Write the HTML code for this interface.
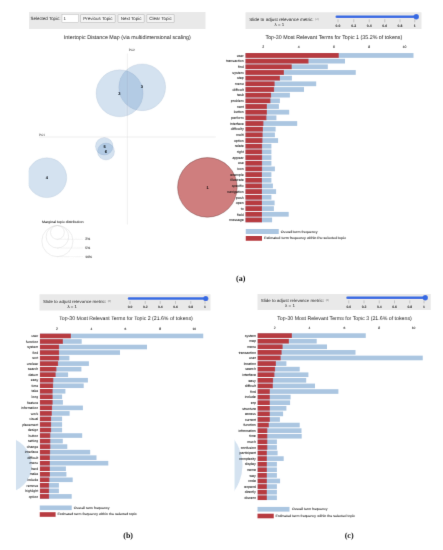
<!DOCTYPE html>
<html lang="en"><head><meta charset="utf-8"><title>LDAvis topics</title>
<style>
html,body{margin:0;padding:0;background:#fff;}
svg{display:block;}
</style></head><body>
<svg width="443" height="550" viewBox="0 0 443 550" text-rendering="geometricPrecision">
<rect width="443" height="550" fill="#fff"/>
<defs><filter id="soft" x="0" y="0" width="443" height="550" filterUnits="userSpaceOnUse"><feConvolveMatrix order="3" kernelMatrix="0 1 0 1 10 1 0 1 0" divisor="14" edgeMode="duplicate" preserveAlpha="false"/></filter></defs>
<g filter="url(#soft)">
<rect x="29.00" y="12.00" width="176.50" height="17.00" fill="#e9e9e9" rx="0"/>
<text x="30.50" y="20.10" font-size="4.5" text-anchor="start" fill="#222" stroke="#222" stroke-width="0.000" font-family='"Liberation Sans", Arial, sans-serif' textLength="30.00" lengthAdjust="spacingAndGlyphs">Selected Topic:</text>
<rect x="62.00" y="14.30" width="16.70" height="8.20" fill="#fff" stroke="#a9a9a9" stroke-width="0.4" rx="0"/>
<text x="63.60" y="20.10" font-size="4.5" text-anchor="start" fill="#222" stroke="#222" stroke-width="0.000" font-family='"Liberation Sans", Arial, sans-serif'>1</text>
<rect x="80.50" y="14.50" width="34.75" height="8.00" fill="#f4f4f4" stroke="#a0a0a0" stroke-width="0.4" rx="0.5"/>
<text x="97.88" y="20.10" font-size="4.5" text-anchor="middle" fill="#222" stroke="#222" stroke-width="0.000" font-family='"Liberation Sans", Arial, sans-serif'>Previous Topic</text>
<rect x="118.00" y="14.50" width="26.25" height="8.00" fill="#f4f4f4" stroke="#a0a0a0" stroke-width="0.4" rx="0.5"/>
<text x="131.12" y="20.10" font-size="4.5" text-anchor="middle" fill="#222" stroke="#222" stroke-width="0.000" font-family='"Liberation Sans", Arial, sans-serif'>Next Topic</text>
<rect x="146.75" y="14.50" width="27.50" height="8.00" fill="#f4f4f4" stroke="#a0a0a0" stroke-width="0.4" rx="0.5"/>
<text x="160.50" y="20.10" font-size="4.5" text-anchor="middle" fill="#222" stroke="#222" stroke-width="0.000" font-family='"Liberation Sans", Arial, sans-serif'>Clear Topic</text>
<text x="127.25" y="39.40" font-size="5.4" text-anchor="middle" fill="#222" stroke="#222" stroke-width="0.000" font-family='"Liberation Sans", Arial, sans-serif' textLength="127.00" lengthAdjust="spacingAndGlyphs">Intertopic Distance Map (via multidimensional scaling)</text>
<line x1="127.3" y1="53.5" x2="127.3" y2="224.5" stroke="#dedede" stroke-width="0.5"/>
<line x1="39" y1="137" x2="215.75" y2="137" stroke="#dedede" stroke-width="0.5"/>
<text x="128.80" y="51.00" font-size="3.1" text-anchor="start" fill="#555" stroke="#555" stroke-width="0.043" font-family='"Liberation Sans", Arial, sans-serif'>PC2</text>
<text x="39.00" y="135.60" font-size="3.1" text-anchor="start" fill="#555" stroke="#555" stroke-width="0.043" font-family='"Liberation Sans", Arial, sans-serif'>PC1</text>
<circle cx="119.6" cy="93.3" r="23.5" fill="#2d70b4" fill-opacity="0.2" stroke="#6c8fb0" stroke-width="0.3" stroke-opacity="0.5"/>
<circle cx="142.2" cy="87.3" r="23.4" fill="#2d70b4" fill-opacity="0.2" stroke="#6c8fb0" stroke-width="0.3" stroke-opacity="0.5"/>
<circle cx="104.25" cy="146.25" r="8.75" fill="#2d70b4" fill-opacity="0.2" stroke="#6c8fb0" stroke-width="0.3" stroke-opacity="0.5"/>
<circle cx="106" cy="151.5" r="8.5" fill="#2d70b4" fill-opacity="0.2" stroke="#6c8fb0" stroke-width="0.3" stroke-opacity="0.5"/>
<clipPath id="c4"><rect x="28.7" y="150" width="60" height="60"/></clipPath>
<g clip-path="url(#c4)">
<circle cx="46.8" cy="177.7" r="19.9" fill="#2d70b4" fill-opacity="0.2" stroke="#6c8fb0" stroke-width="0.3" stroke-opacity="0.5"/>
</g>
<circle cx="207.4" cy="187.4" r="29.8" fill="#b84040" fill-opacity="0.68" stroke="#5a3030" stroke-width="0.4" stroke-opacity="0.9"/>
<text x="119.25" y="94.50" font-size="4.0" text-anchor="middle" fill="#111" stroke="#111" stroke-width="0.056" font-family='"Liberation Sans", Arial, sans-serif' font-weight="bold">2</text>
<text x="141.75" y="88.30" font-size="4.0" text-anchor="middle" fill="#111" stroke="#111" stroke-width="0.056" font-family='"Liberation Sans", Arial, sans-serif' font-weight="bold">3</text>
<text x="104.50" y="147.50" font-size="4.0" text-anchor="middle" fill="#111" stroke="#111" stroke-width="0.056" font-family='"Liberation Sans", Arial, sans-serif' font-weight="bold">5</text>
<text x="105.75" y="153.00" font-size="4.0" text-anchor="middle" fill="#111" stroke="#111" stroke-width="0.056" font-family='"Liberation Sans", Arial, sans-serif' font-weight="bold">6</text>
<text x="46.80" y="178.90" font-size="4.0" text-anchor="middle" fill="#111" stroke="#111" stroke-width="0.056" font-family='"Liberation Sans", Arial, sans-serif' font-weight="bold">4</text>
<text x="207.50" y="189.00" font-size="4.0" text-anchor="middle" fill="#111" stroke="#111" stroke-width="0.056" font-family='"Liberation Sans", Arial, sans-serif' font-weight="bold">1</text>
<text x="42.00" y="223.00" font-size="3.4" text-anchor="start" fill="#222" stroke="#222" stroke-width="0.048" font-family='"Liberation Sans", Arial, sans-serif' textLength="41.50" lengthAdjust="spacingAndGlyphs">Marginal topic distribution</text>
<circle cx="57.4" cy="241.1" r="15.6" fill="none" stroke="#d2d2d2" stroke-width="0.4"/>
<line x1="57.4" y1="256.7" x2="83" y2="256.7" stroke="#d0d0d0" stroke-width="0.4" stroke-dasharray="0.6,0.5"/>
<circle cx="57.4" cy="236.75" r="11.25" fill="none" stroke="#d2d2d2" stroke-width="0.4"/>
<line x1="57.4" y1="248.0" x2="83" y2="248.0" stroke="#d0d0d0" stroke-width="0.4" stroke-dasharray="0.6,0.5"/>
<circle cx="57.4" cy="232.4" r="6.9" fill="none" stroke="#d2d2d2" stroke-width="0.4"/>
<line x1="57.4" y1="239.3" x2="83" y2="239.3" stroke="#d0d0d0" stroke-width="0.4" stroke-dasharray="0.6,0.5"/>
<text x="85.30" y="239.90" font-size="3.3" text-anchor="start" fill="#222" stroke="#222" stroke-width="0.046" font-family='"Liberation Sans", Arial, sans-serif'>2%</text>
<text x="85.30" y="248.60" font-size="3.3" text-anchor="start" fill="#222" stroke="#222" stroke-width="0.046" font-family='"Liberation Sans", Arial, sans-serif'>5%</text>
<text x="85.30" y="257.80" font-size="3.3" text-anchor="start" fill="#222" stroke="#222" stroke-width="0.046" font-family='"Liberation Sans", Arial, sans-serif'>10%</text>
<rect x="245.50" y="12.25" width="176.00" height="16.75" fill="#e9e9e9" rx="0"/>
<text x="249.25" y="20.85" font-size="4.45" text-anchor="start" fill="#222" stroke="#222" stroke-width="0.000" font-family='"Liberation Sans", Arial, sans-serif' textLength="64.29" lengthAdjust="spacingAndGlyphs">Slide to adjust relevance metric:</text>
<text x="318.75" y="19.65" font-size="2.8" text-anchor="end" fill="#8a8a8a" stroke="#8a8a8a" stroke-width="0.039" font-family='"Liberation Sans", Arial, sans-serif'>(2)</text>
<text x="279.38" y="26.25" font-size="4.3" text-anchor="middle" fill="#222" stroke="#222" stroke-width="0.000" font-family='"Liberation Sans", Arial, sans-serif' textLength="9.75" lengthAdjust="spacingAndGlyphs">λ = 1</text>
<line x1="336.75" y1="16.75" x2="414.75" y2="16.75" stroke="#356ae3" stroke-width="2.50" stroke-linecap="round"/>
<circle cx="416.25" cy="16.75" r="2.70" fill="#356ae3"/>
<text x="338.00" y="26.70" font-size="3.45" text-anchor="middle" fill="#222" stroke="#222" stroke-width="0.048" font-family='"Liberation Sans", Arial, sans-serif' font-weight="bold">0.0</text>
<line x1="338" y1="19.30" x2="338" y2="22.30" stroke="#8c8c8c" stroke-width="0.4"/>
<text x="353.75" y="26.70" font-size="3.45" text-anchor="middle" fill="#222" stroke="#222" stroke-width="0.048" font-family='"Liberation Sans", Arial, sans-serif' font-weight="bold">0.2</text>
<line x1="353.75" y1="19.30" x2="353.75" y2="22.30" stroke="#8c8c8c" stroke-width="0.4"/>
<text x="369.25" y="26.70" font-size="3.45" text-anchor="middle" fill="#222" stroke="#222" stroke-width="0.048" font-family='"Liberation Sans", Arial, sans-serif' font-weight="bold">0.4</text>
<line x1="369.25" y1="19.30" x2="369.25" y2="22.30" stroke="#8c8c8c" stroke-width="0.4"/>
<text x="384.75" y="26.70" font-size="3.45" text-anchor="middle" fill="#222" stroke="#222" stroke-width="0.048" font-family='"Liberation Sans", Arial, sans-serif' font-weight="bold">0.6</text>
<line x1="384.75" y1="19.30" x2="384.75" y2="22.30" stroke="#8c8c8c" stroke-width="0.4"/>
<text x="400.00" y="26.70" font-size="3.45" text-anchor="middle" fill="#222" stroke="#222" stroke-width="0.048" font-family='"Liberation Sans", Arial, sans-serif' font-weight="bold">0.8</text>
<line x1="400" y1="19.30" x2="400" y2="22.30" stroke="#8c8c8c" stroke-width="0.4"/>
<text x="414.75" y="26.70" font-size="3.45" text-anchor="middle" fill="#222" stroke="#222" stroke-width="0.048" font-family='"Liberation Sans", Arial, sans-serif' font-weight="bold">1</text>
<line x1="414.75" y1="19.30" x2="414.75" y2="22.30" stroke="#8c8c8c" stroke-width="0.4"/>
<text x="333.88" y="39.40" font-size="5.4" text-anchor="middle" fill="#222" stroke="#222" stroke-width="0.000" font-family='"Liberation Sans", Arial, sans-serif' textLength="136.75" lengthAdjust="spacingAndGlyphs">Top-30 Most Relevant Terms for Topic 1 (35.2% of tokens)</text>
<text x="263.25" y="48.35" font-size="3.4" text-anchor="middle" fill="#111" stroke="#111" stroke-width="0.048" font-family='"Liberation Sans", Arial, sans-serif'>2</text>
<text x="298.75" y="48.35" font-size="3.4" text-anchor="middle" fill="#111" stroke="#111" stroke-width="0.048" font-family='"Liberation Sans", Arial, sans-serif'>4</text>
<text x="334.00" y="48.35" font-size="3.4" text-anchor="middle" fill="#111" stroke="#111" stroke-width="0.048" font-family='"Liberation Sans", Arial, sans-serif'>6</text>
<text x="369.25" y="48.35" font-size="3.4" text-anchor="middle" fill="#111" stroke="#111" stroke-width="0.048" font-family='"Liberation Sans", Arial, sans-serif'>8</text>
<text x="404.50" y="48.35" font-size="3.4" text-anchor="middle" fill="#111" stroke="#111" stroke-width="0.048" font-family='"Liberation Sans", Arial, sans-serif'>10</text>
<rect x="245.50" y="53.08" width="168.00" height="4.75" fill="#abc6e1" rx="0"/>
<rect x="245.50" y="53.08" width="93.25" height="4.75" fill="#b73a3f" rx="0"/>
<text x="243.70" y="56.70" font-size="3.58" text-anchor="end" fill="#1a1a1a" stroke="#1a1a1a" stroke-width="0.050" font-family='"Liberation Sans", Arial, sans-serif'>user</text>
<rect x="245.50" y="58.75" width="99.50" height="4.75" fill="#abc6e1" rx="0"/>
<rect x="245.50" y="58.75" width="63.00" height="4.75" fill="#b73a3f" rx="0"/>
<text x="243.70" y="62.37" font-size="3.58" text-anchor="end" fill="#1a1a1a" stroke="#1a1a1a" stroke-width="0.050" font-family='"Liberation Sans", Arial, sans-serif'>transaction</text>
<rect x="245.50" y="64.42" width="82.30" height="4.75" fill="#abc6e1" rx="0"/>
<rect x="245.50" y="64.42" width="46.20" height="4.75" fill="#b73a3f" rx="0"/>
<text x="243.70" y="68.04" font-size="3.58" text-anchor="end" fill="#1a1a1a" stroke="#1a1a1a" stroke-width="0.050" font-family='"Liberation Sans", Arial, sans-serif'>find</text>
<rect x="245.50" y="70.09" width="110.25" height="4.75" fill="#abc6e1" rx="0"/>
<rect x="245.50" y="70.09" width="38.40" height="4.75" fill="#b73a3f" rx="0"/>
<text x="243.70" y="73.72" font-size="3.58" text-anchor="end" fill="#1a1a1a" stroke="#1a1a1a" stroke-width="0.050" font-family='"Liberation Sans", Arial, sans-serif'>system</text>
<rect x="245.50" y="75.76" width="46.40" height="4.75" fill="#abc6e1" rx="0"/>
<rect x="245.50" y="75.76" width="34.40" height="4.75" fill="#b73a3f" rx="0"/>
<text x="243.70" y="79.39" font-size="3.58" text-anchor="end" fill="#1a1a1a" stroke="#1a1a1a" stroke-width="0.050" font-family='"Liberation Sans", Arial, sans-serif'>step</text>
<rect x="245.50" y="81.44" width="70.70" height="4.75" fill="#abc6e1" rx="0"/>
<rect x="245.50" y="81.44" width="29.10" height="4.75" fill="#b73a3f" rx="0"/>
<text x="243.70" y="85.06" font-size="3.58" text-anchor="end" fill="#1a1a1a" stroke="#1a1a1a" stroke-width="0.050" font-family='"Liberation Sans", Arial, sans-serif'>menu</text>
<rect x="245.50" y="87.11" width="58.50" height="4.75" fill="#abc6e1" rx="0"/>
<rect x="245.50" y="87.11" width="28.60" height="4.75" fill="#b73a3f" rx="0"/>
<text x="243.70" y="90.73" font-size="3.58" text-anchor="end" fill="#1a1a1a" stroke="#1a1a1a" stroke-width="0.050" font-family='"Liberation Sans", Arial, sans-serif'>difficult</text>
<rect x="245.50" y="92.78" width="44.40" height="4.75" fill="#abc6e1" rx="0"/>
<rect x="245.50" y="92.78" width="25.60" height="4.75" fill="#b73a3f" rx="0"/>
<text x="243.70" y="96.40" font-size="3.58" text-anchor="end" fill="#1a1a1a" stroke="#1a1a1a" stroke-width="0.050" font-family='"Liberation Sans", Arial, sans-serif'>task</text>
<rect x="245.50" y="98.45" width="34.40" height="4.75" fill="#abc6e1" rx="0"/>
<rect x="245.50" y="98.45" width="24.90" height="4.75" fill="#b73a3f" rx="0"/>
<text x="243.70" y="102.08" font-size="3.58" text-anchor="end" fill="#1a1a1a" stroke="#1a1a1a" stroke-width="0.050" font-family='"Liberation Sans", Arial, sans-serif'>problem</text>
<rect x="245.50" y="104.12" width="33.40" height="4.75" fill="#abc6e1" rx="0"/>
<rect x="245.50" y="104.12" width="21.40" height="4.75" fill="#b73a3f" rx="0"/>
<text x="243.70" y="107.75" font-size="3.58" text-anchor="end" fill="#1a1a1a" stroke="#1a1a1a" stroke-width="0.050" font-family='"Liberation Sans", Arial, sans-serif'>next</text>
<rect x="245.50" y="109.80" width="43.70" height="4.75" fill="#abc6e1" rx="0"/>
<rect x="245.50" y="109.80" width="21.40" height="4.75" fill="#b73a3f" rx="0"/>
<text x="243.70" y="113.42" font-size="3.58" text-anchor="end" fill="#1a1a1a" stroke="#1a1a1a" stroke-width="0.050" font-family='"Liberation Sans", Arial, sans-serif'>button</text>
<rect x="245.50" y="115.47" width="30.90" height="4.75" fill="#abc6e1" rx="0"/>
<rect x="245.50" y="115.47" width="20.90" height="4.75" fill="#b73a3f" rx="0"/>
<text x="243.70" y="119.09" font-size="3.58" text-anchor="end" fill="#1a1a1a" stroke="#1a1a1a" stroke-width="0.050" font-family='"Liberation Sans", Arial, sans-serif'>perform</text>
<rect x="245.50" y="121.14" width="51.70" height="4.75" fill="#abc6e1" rx="0"/>
<rect x="245.50" y="121.14" width="17.90" height="4.75" fill="#b73a3f" rx="0"/>
<text x="243.70" y="124.76" font-size="3.58" text-anchor="end" fill="#1a1a1a" stroke="#1a1a1a" stroke-width="0.050" font-family='"Liberation Sans", Arial, sans-serif'>interface</text>
<rect x="245.50" y="126.81" width="30.10" height="4.75" fill="#abc6e1" rx="0"/>
<rect x="245.50" y="126.81" width="17.40" height="4.75" fill="#b73a3f" rx="0"/>
<text x="243.70" y="130.44" font-size="3.58" text-anchor="end" fill="#1a1a1a" stroke="#1a1a1a" stroke-width="0.050" font-family='"Liberation Sans", Arial, sans-serif'>difficulty</text>
<rect x="245.50" y="132.48" width="29.40" height="4.75" fill="#abc6e1" rx="0"/>
<rect x="245.50" y="132.48" width="17.10" height="4.75" fill="#b73a3f" rx="0"/>
<text x="243.70" y="136.11" font-size="3.58" text-anchor="end" fill="#1a1a1a" stroke="#1a1a1a" stroke-width="0.050" font-family='"Liberation Sans", Arial, sans-serif'>multi</text>
<rect x="245.50" y="138.16" width="32.60" height="4.75" fill="#abc6e1" rx="0"/>
<rect x="245.50" y="138.16" width="16.90" height="4.75" fill="#b73a3f" rx="0"/>
<text x="243.70" y="141.78" font-size="3.58" text-anchor="end" fill="#1a1a1a" stroke="#1a1a1a" stroke-width="0.050" font-family='"Liberation Sans", Arial, sans-serif'>option</text>
<rect x="245.50" y="143.83" width="25.90" height="4.75" fill="#abc6e1" rx="0"/>
<rect x="245.50" y="143.83" width="16.60" height="4.75" fill="#b73a3f" rx="0"/>
<text x="243.70" y="147.45" font-size="3.58" text-anchor="end" fill="#1a1a1a" stroke="#1a1a1a" stroke-width="0.050" font-family='"Liberation Sans", Arial, sans-serif'>relate</text>
<rect x="245.50" y="149.50" width="25.90" height="4.75" fill="#abc6e1" rx="0"/>
<rect x="245.50" y="149.50" width="16.60" height="4.75" fill="#b73a3f" rx="0"/>
<text x="243.70" y="153.12" font-size="3.58" text-anchor="end" fill="#1a1a1a" stroke="#1a1a1a" stroke-width="0.050" font-family='"Liberation Sans", Arial, sans-serif'>right</text>
<rect x="245.50" y="155.17" width="25.90" height="4.75" fill="#abc6e1" rx="0"/>
<rect x="245.50" y="155.17" width="16.60" height="4.75" fill="#b73a3f" rx="0"/>
<text x="243.70" y="158.80" font-size="3.58" text-anchor="end" fill="#1a1a1a" stroke="#1a1a1a" stroke-width="0.050" font-family='"Liberation Sans", Arial, sans-serif'>appear</text>
<rect x="245.50" y="160.84" width="25.90" height="4.75" fill="#abc6e1" rx="0"/>
<rect x="245.50" y="160.84" width="16.60" height="4.75" fill="#b73a3f" rx="0"/>
<text x="243.70" y="164.47" font-size="3.58" text-anchor="end" fill="#1a1a1a" stroke="#1a1a1a" stroke-width="0.050" font-family='"Liberation Sans", Arial, sans-serif'>use</text>
<rect x="245.50" y="166.51" width="29.40" height="4.75" fill="#abc6e1" rx="0"/>
<rect x="245.50" y="166.51" width="16.60" height="4.75" fill="#b73a3f" rx="0"/>
<text x="243.70" y="170.14" font-size="3.58" text-anchor="end" fill="#1a1a1a" stroke="#1a1a1a" stroke-width="0.050" font-family='"Liberation Sans", Arial, sans-serif'>icon</text>
<rect x="245.50" y="172.19" width="25.90" height="4.75" fill="#abc6e1" rx="0"/>
<rect x="245.50" y="172.19" width="16.50" height="4.75" fill="#b73a3f" rx="0"/>
<text x="243.70" y="175.81" font-size="3.58" text-anchor="end" fill="#1a1a1a" stroke="#1a1a1a" stroke-width="0.050" font-family='"Liberation Sans", Arial, sans-serif'>example</text>
<rect x="245.50" y="177.86" width="25.90" height="4.75" fill="#abc6e1" rx="0"/>
<rect x="245.50" y="177.86" width="16.50" height="4.75" fill="#b73a3f" rx="0"/>
<text x="243.70" y="181.48" font-size="3.58" text-anchor="end" fill="#1a1a1a" stroke="#1a1a1a" stroke-width="0.050" font-family='"Liberation Sans", Arial, sans-serif'>illustrate</text>
<rect x="245.50" y="183.53" width="27.40" height="4.75" fill="#abc6e1" rx="0"/>
<rect x="245.50" y="183.53" width="16.50" height="4.75" fill="#b73a3f" rx="0"/>
<text x="243.70" y="187.16" font-size="3.58" text-anchor="end" fill="#1a1a1a" stroke="#1a1a1a" stroke-width="0.050" font-family='"Liberation Sans", Arial, sans-serif'>specific</text>
<rect x="245.50" y="189.20" width="30.60" height="4.75" fill="#abc6e1" rx="0"/>
<rect x="245.50" y="189.20" width="16.50" height="4.75" fill="#b73a3f" rx="0"/>
<text x="243.70" y="192.83" font-size="3.58" text-anchor="end" fill="#1a1a1a" stroke="#1a1a1a" stroke-width="0.050" font-family='"Liberation Sans", Arial, sans-serif'>navigation</text>
<rect x="245.50" y="194.88" width="25.90" height="4.75" fill="#abc6e1" rx="0"/>
<rect x="245.50" y="194.88" width="16.50" height="4.75" fill="#b73a3f" rx="0"/>
<text x="243.70" y="198.50" font-size="3.58" text-anchor="end" fill="#1a1a1a" stroke="#1a1a1a" stroke-width="0.050" font-family='"Liberation Sans", Arial, sans-serif'>push</text>
<rect x="245.50" y="200.55" width="29.10" height="4.75" fill="#abc6e1" rx="0"/>
<rect x="245.50" y="200.55" width="16.50" height="4.75" fill="#b73a3f" rx="0"/>
<text x="243.70" y="204.17" font-size="3.58" text-anchor="end" fill="#1a1a1a" stroke="#1a1a1a" stroke-width="0.050" font-family='"Liberation Sans", Arial, sans-serif'>open</text>
<rect x="245.50" y="206.22" width="28.40" height="4.75" fill="#abc6e1" rx="0"/>
<rect x="245.50" y="206.22" width="16.50" height="4.75" fill="#b73a3f" rx="0"/>
<text x="243.70" y="209.84" font-size="3.58" text-anchor="end" fill="#1a1a1a" stroke="#1a1a1a" stroke-width="0.050" font-family='"Liberation Sans", Arial, sans-serif'>to</text>
<rect x="245.50" y="211.89" width="43.20" height="4.75" fill="#abc6e1" rx="0"/>
<rect x="245.50" y="211.89" width="16.50" height="4.75" fill="#b73a3f" rx="0"/>
<text x="243.70" y="215.52" font-size="3.58" text-anchor="end" fill="#1a1a1a" stroke="#1a1a1a" stroke-width="0.050" font-family='"Liberation Sans", Arial, sans-serif'>field</text>
<rect x="245.50" y="217.56" width="26.60" height="4.75" fill="#abc6e1" rx="0"/>
<rect x="245.50" y="217.56" width="16.50" height="4.75" fill="#b73a3f" rx="0"/>
<text x="243.70" y="221.19" font-size="3.58" text-anchor="end" fill="#1a1a1a" stroke="#1a1a1a" stroke-width="0.050" font-family='"Liberation Sans", Arial, sans-serif'>message</text>
<rect x="245.75" y="229.00" width="33.00" height="5.00" fill="#abc6e1" rx="0"/>
<text x="280.75" y="232.65" font-size="3.35" text-anchor="start" fill="#222" stroke="#222" stroke-width="0.047" font-family='"Liberation Sans", Arial, sans-serif' textLength="36.75" lengthAdjust="spacingAndGlyphs">Overall term frequency</text>
<rect x="245.75" y="236.00" width="16.25" height="4.75" fill="#b73a3f" rx="0"/>
<text x="264.00" y="239.40" font-size="3.35" text-anchor="start" fill="#222" stroke="#222" stroke-width="0.047" font-family='"Liberation Sans", Arial, sans-serif' textLength="82.00" lengthAdjust="spacingAndGlyphs">Estimated term frequency within the selected topic</text>
<rect x="39.50" y="294.25" width="171.00" height="16.25" fill="#e9e9e9" rx="0"/>
<text x="43.00" y="302.79" font-size="4.3254" text-anchor="start" fill="#222" stroke="#222" stroke-width="0.000" font-family='"Liberation Sans", Arial, sans-serif' textLength="62.90" lengthAdjust="spacingAndGlyphs">Slide to adjust relevance metric:</text>
<text x="111.00" y="301.62" font-size="2.7215999999999996" text-anchor="end" fill="#8a8a8a" stroke="#8a8a8a" stroke-width="0.038" font-family='"Liberation Sans", Arial, sans-serif'>(2)</text>
<text x="72.25" y="307.94" font-size="4.1796" text-anchor="middle" fill="#222" stroke="#222" stroke-width="0.059" font-family='"Liberation Sans", Arial, sans-serif' textLength="9.50" lengthAdjust="spacingAndGlyphs">λ = 1</text>
<line x1="129" y1="298.5" x2="205.25" y2="298.5" stroke="#356ae3" stroke-width="2.43" stroke-linecap="round"/>
<circle cx="205.75" cy="298.5" r="2.62" fill="#356ae3"/>
<text x="130.00" y="308.17" font-size="3.3534" text-anchor="middle" fill="#222" stroke="#222" stroke-width="0.047" font-family='"Liberation Sans", Arial, sans-serif' font-weight="bold">0.0</text>
<line x1="130" y1="300.97" x2="130" y2="303.89" stroke="#8c8c8c" stroke-width="0.4"/>
<text x="145.25" y="308.17" font-size="3.3534" text-anchor="middle" fill="#222" stroke="#222" stroke-width="0.047" font-family='"Liberation Sans", Arial, sans-serif' font-weight="bold">0.2</text>
<line x1="145.25" y1="300.97" x2="145.25" y2="303.89" stroke="#8c8c8c" stroke-width="0.4"/>
<text x="160.25" y="308.17" font-size="3.3534" text-anchor="middle" fill="#222" stroke="#222" stroke-width="0.047" font-family='"Liberation Sans", Arial, sans-serif' font-weight="bold">0.4</text>
<line x1="160.25" y1="300.97" x2="160.25" y2="303.89" stroke="#8c8c8c" stroke-width="0.4"/>
<text x="175.50" y="308.17" font-size="3.3534" text-anchor="middle" fill="#222" stroke="#222" stroke-width="0.047" font-family='"Liberation Sans", Arial, sans-serif' font-weight="bold">0.6</text>
<line x1="175.5" y1="300.97" x2="175.5" y2="303.89" stroke="#8c8c8c" stroke-width="0.4"/>
<text x="190.75" y="308.17" font-size="3.3534" text-anchor="middle" fill="#222" stroke="#222" stroke-width="0.047" font-family='"Liberation Sans", Arial, sans-serif' font-weight="bold">0.8</text>
<line x1="190.75" y1="300.97" x2="190.75" y2="303.89" stroke="#8c8c8c" stroke-width="0.4"/>
<text x="205.00" y="308.17" font-size="3.3534" text-anchor="middle" fill="#222" stroke="#222" stroke-width="0.047" font-family='"Liberation Sans", Arial, sans-serif' font-weight="bold">1</text>
<line x1="205" y1="300.97" x2="205" y2="303.89" stroke="#8c8c8c" stroke-width="0.4"/>
<text x="126.00" y="320.10" font-size="5.2488" text-anchor="middle" fill="#222" stroke="#222" stroke-width="0.000" font-family='"Liberation Sans", Arial, sans-serif' textLength="133.50" lengthAdjust="spacingAndGlyphs">Top-30 Most Relevant Terms for Topic 2 (21.6% of tokens)</text>
<text x="57.00" y="329.56" font-size="3.3047999999999997" text-anchor="middle" fill="#111" stroke="#111" stroke-width="0.046" font-family='"Liberation Sans", Arial, sans-serif'>2</text>
<text x="91.50" y="329.56" font-size="3.3047999999999997" text-anchor="middle" fill="#111" stroke="#111" stroke-width="0.046" font-family='"Liberation Sans", Arial, sans-serif'>4</text>
<text x="125.50" y="329.56" font-size="3.3047999999999997" text-anchor="middle" fill="#111" stroke="#111" stroke-width="0.046" font-family='"Liberation Sans", Arial, sans-serif'>6</text>
<text x="160.25" y="329.56" font-size="3.3047999999999997" text-anchor="middle" fill="#111" stroke="#111" stroke-width="0.046" font-family='"Liberation Sans", Arial, sans-serif'>8</text>
<text x="194.25" y="329.56" font-size="3.3047999999999997" text-anchor="middle" fill="#111" stroke="#111" stroke-width="0.046" font-family='"Liberation Sans", Arial, sans-serif'>10</text>
<clipPath id="clb"><rect x="16.0" y="435.3" width="80" height="59.8"/></clipPath>
<circle cx="3.8" cy="465.2" r="27.9" fill="#2d70b4" fill-opacity="0.2" clip-path="url(#clb)"/>
<rect x="39.95" y="333.65" width="163.30" height="4.60" fill="#abc6e1" rx="0"/>
<rect x="39.95" y="333.65" width="30.95" height="4.60" fill="#b73a3f" rx="0"/>
<text x="38.15" y="337.16" font-size="3.47976" text-anchor="end" fill="#1a1a1a" stroke="#1a1a1a" stroke-width="0.049" font-family='"Liberation Sans", Arial, sans-serif'>user</text>
<rect x="39.95" y="339.18" width="41.75" height="4.60" fill="#abc6e1" rx="0"/>
<rect x="39.95" y="339.18" width="22.95" height="4.60" fill="#b73a3f" rx="0"/>
<text x="38.15" y="342.70" font-size="3.47976" text-anchor="end" fill="#1a1a1a" stroke="#1a1a1a" stroke-width="0.049" font-family='"Liberation Sans", Arial, sans-serif'>function</text>
<rect x="39.95" y="344.72" width="107.05" height="4.60" fill="#abc6e1" rx="0"/>
<rect x="39.95" y="344.72" width="19.15" height="4.60" fill="#b73a3f" rx="0"/>
<text x="38.15" y="348.23" font-size="3.47976" text-anchor="end" fill="#1a1a1a" stroke="#1a1a1a" stroke-width="0.049" font-family='"Liberation Sans", Arial, sans-serif'>system</text>
<rect x="39.95" y="350.25" width="80.05" height="4.60" fill="#abc6e1" rx="0"/>
<rect x="39.95" y="350.25" width="19.15" height="4.60" fill="#b73a3f" rx="0"/>
<text x="38.15" y="353.76" font-size="3.47976" text-anchor="end" fill="#1a1a1a" stroke="#1a1a1a" stroke-width="0.049" font-family='"Liberation Sans", Arial, sans-serif'>find</text>
<rect x="39.95" y="355.78" width="29.45" height="4.60" fill="#abc6e1" rx="0"/>
<rect x="39.95" y="355.78" width="19.15" height="4.60" fill="#b73a3f" rx="0"/>
<text x="38.15" y="359.30" font-size="3.47976" text-anchor="end" fill="#1a1a1a" stroke="#1a1a1a" stroke-width="0.049" font-family='"Liberation Sans", Arial, sans-serif'>sort</text>
<rect x="39.95" y="361.31" width="48.95" height="4.60" fill="#abc6e1" rx="0"/>
<rect x="39.95" y="361.31" width="18.15" height="4.60" fill="#b73a3f" rx="0"/>
<text x="38.15" y="364.83" font-size="3.47976" text-anchor="end" fill="#1a1a1a" stroke="#1a1a1a" stroke-width="0.049" font-family='"Liberation Sans", Arial, sans-serif'>unclear</text>
<rect x="39.95" y="366.85" width="41.45" height="4.60" fill="#abc6e1" rx="0"/>
<rect x="39.95" y="366.85" width="16.45" height="4.60" fill="#b73a3f" rx="0"/>
<text x="38.15" y="370.36" font-size="3.47976" text-anchor="end" fill="#1a1a1a" stroke="#1a1a1a" stroke-width="0.049" font-family='"Liberation Sans", Arial, sans-serif'>search</text>
<rect x="39.95" y="372.38" width="28.15" height="4.60" fill="#abc6e1" rx="0"/>
<rect x="39.95" y="372.38" width="15.65" height="4.60" fill="#b73a3f" rx="0"/>
<text x="38.15" y="375.90" font-size="3.47976" text-anchor="end" fill="#1a1a1a" stroke="#1a1a1a" stroke-width="0.049" font-family='"Liberation Sans", Arial, sans-serif'>datum</text>
<rect x="39.95" y="377.91" width="47.95" height="4.60" fill="#abc6e1" rx="0"/>
<rect x="39.95" y="377.91" width="13.35" height="4.60" fill="#b73a3f" rx="0"/>
<text x="38.15" y="381.43" font-size="3.47976" text-anchor="end" fill="#1a1a1a" stroke="#1a1a1a" stroke-width="0.049" font-family='"Liberation Sans", Arial, sans-serif'>easy</text>
<rect x="39.95" y="383.45" width="43.75" height="4.60" fill="#abc6e1" rx="0"/>
<rect x="39.95" y="383.45" width="13.15" height="4.60" fill="#b73a3f" rx="0"/>
<text x="38.15" y="386.96" font-size="3.47976" text-anchor="end" fill="#1a1a1a" stroke="#1a1a1a" stroke-width="0.049" font-family='"Liberation Sans", Arial, sans-serif'>time</text>
<rect x="39.95" y="388.98" width="25.45" height="4.60" fill="#abc6e1" rx="0"/>
<rect x="39.95" y="388.98" width="12.65" height="4.60" fill="#b73a3f" rx="0"/>
<text x="38.15" y="392.49" font-size="3.47976" text-anchor="end" fill="#1a1a1a" stroke="#1a1a1a" stroke-width="0.049" font-family='"Liberation Sans", Arial, sans-serif'>take</text>
<rect x="39.95" y="394.51" width="22.15" height="4.60" fill="#abc6e1" rx="0"/>
<rect x="39.95" y="394.51" width="12.65" height="4.60" fill="#b73a3f" rx="0"/>
<text x="38.15" y="398.03" font-size="3.47976" text-anchor="end" fill="#1a1a1a" stroke="#1a1a1a" stroke-width="0.049" font-family='"Liberation Sans", Arial, sans-serif'>long</text>
<rect x="39.95" y="400.05" width="22.95" height="4.60" fill="#abc6e1" rx="0"/>
<rect x="39.95" y="400.05" width="12.65" height="4.60" fill="#b73a3f" rx="0"/>
<text x="38.15" y="403.56" font-size="3.47976" text-anchor="end" fill="#1a1a1a" stroke="#1a1a1a" stroke-width="0.049" font-family='"Liberation Sans", Arial, sans-serif'>feature</text>
<rect x="39.95" y="405.58" width="42.95" height="4.60" fill="#abc6e1" rx="0"/>
<rect x="39.95" y="405.58" width="12.15" height="4.60" fill="#b73a3f" rx="0"/>
<text x="38.15" y="409.09" font-size="3.47976" text-anchor="end" fill="#1a1a1a" stroke="#1a1a1a" stroke-width="0.049" font-family='"Liberation Sans", Arial, sans-serif'>information</text>
<rect x="39.95" y="411.11" width="29.65" height="4.60" fill="#abc6e1" rx="0"/>
<rect x="39.95" y="411.11" width="11.85" height="4.60" fill="#b73a3f" rx="0"/>
<text x="38.15" y="414.63" font-size="3.47976" text-anchor="end" fill="#1a1a1a" stroke="#1a1a1a" stroke-width="0.049" font-family='"Liberation Sans", Arial, sans-serif'>work</text>
<rect x="39.95" y="416.64" width="22.15" height="4.60" fill="#abc6e1" rx="0"/>
<rect x="39.95" y="416.64" width="11.15" height="4.60" fill="#b73a3f" rx="0"/>
<text x="38.15" y="420.16" font-size="3.47976" text-anchor="end" fill="#1a1a1a" stroke="#1a1a1a" stroke-width="0.049" font-family='"Liberation Sans", Arial, sans-serif'>visual</text>
<rect x="39.95" y="422.18" width="22.15" height="4.60" fill="#abc6e1" rx="0"/>
<rect x="39.95" y="422.18" width="11.15" height="4.60" fill="#b73a3f" rx="0"/>
<text x="38.15" y="425.69" font-size="3.47976" text-anchor="end" fill="#1a1a1a" stroke="#1a1a1a" stroke-width="0.049" font-family='"Liberation Sans", Arial, sans-serif'>placement</text>
<rect x="39.95" y="427.71" width="22.15" height="4.60" fill="#abc6e1" rx="0"/>
<rect x="39.95" y="427.71" width="11.15" height="4.60" fill="#b73a3f" rx="0"/>
<text x="38.15" y="431.23" font-size="3.47976" text-anchor="end" fill="#1a1a1a" stroke="#1a1a1a" stroke-width="0.049" font-family='"Liberation Sans", Arial, sans-serif'>design</text>
<rect x="39.95" y="433.24" width="42.25" height="4.60" fill="#abc6e1" rx="0"/>
<rect x="39.95" y="433.24" width="10.35" height="4.60" fill="#b73a3f" rx="0"/>
<text x="38.15" y="436.76" font-size="3.47976" text-anchor="end" fill="#1a1a1a" stroke="#1a1a1a" stroke-width="0.049" font-family='"Liberation Sans", Arial, sans-serif'>button</text>
<rect x="39.95" y="438.78" width="22.85" height="4.60" fill="#abc6e1" rx="0"/>
<rect x="39.95" y="438.78" width="10.35" height="4.60" fill="#b73a3f" rx="0"/>
<text x="38.15" y="442.29" font-size="3.47976" text-anchor="end" fill="#1a1a1a" stroke="#1a1a1a" stroke-width="0.049" font-family='"Liberation Sans", Arial, sans-serif'>setting</text>
<rect x="39.95" y="444.31" width="27.35" height="4.60" fill="#abc6e1" rx="0"/>
<rect x="39.95" y="444.31" width="10.35" height="4.60" fill="#b73a3f" rx="0"/>
<text x="38.15" y="447.82" font-size="3.47976" text-anchor="end" fill="#1a1a1a" stroke="#1a1a1a" stroke-width="0.049" font-family='"Liberation Sans", Arial, sans-serif'>change</text>
<rect x="39.95" y="449.84" width="50.25" height="4.60" fill="#abc6e1" rx="0"/>
<rect x="39.95" y="449.84" width="10.15" height="4.60" fill="#b73a3f" rx="0"/>
<text x="38.15" y="453.36" font-size="3.47976" text-anchor="end" fill="#1a1a1a" stroke="#1a1a1a" stroke-width="0.049" font-family='"Liberation Sans", Arial, sans-serif'>interface</text>
<rect x="39.95" y="455.38" width="56.55" height="4.60" fill="#abc6e1" rx="0"/>
<rect x="39.95" y="455.38" width="9.95" height="4.60" fill="#b73a3f" rx="0"/>
<text x="38.15" y="458.89" font-size="3.47976" text-anchor="end" fill="#1a1a1a" stroke="#1a1a1a" stroke-width="0.049" font-family='"Liberation Sans", Arial, sans-serif'>difficult</text>
<rect x="39.95" y="460.91" width="68.35" height="4.60" fill="#abc6e1" rx="0"/>
<rect x="39.95" y="460.91" width="9.95" height="4.60" fill="#b73a3f" rx="0"/>
<text x="38.15" y="464.42" font-size="3.47976" text-anchor="end" fill="#1a1a1a" stroke="#1a1a1a" stroke-width="0.049" font-family='"Liberation Sans", Arial, sans-serif'>menu</text>
<rect x="39.95" y="466.44" width="25.95" height="4.60" fill="#abc6e1" rx="0"/>
<rect x="39.95" y="466.44" width="9.95" height="4.60" fill="#b73a3f" rx="0"/>
<text x="38.15" y="469.96" font-size="3.47976" text-anchor="end" fill="#1a1a1a" stroke="#1a1a1a" stroke-width="0.049" font-family='"Liberation Sans", Arial, sans-serif'>hard</text>
<rect x="39.95" y="471.97" width="26.45" height="4.60" fill="#abc6e1" rx="0"/>
<rect x="39.95" y="471.97" width="9.95" height="4.60" fill="#b73a3f" rx="0"/>
<text x="38.15" y="475.49" font-size="3.47976" text-anchor="end" fill="#1a1a1a" stroke="#1a1a1a" stroke-width="0.049" font-family='"Liberation Sans", Arial, sans-serif'>make</text>
<rect x="39.95" y="477.51" width="32.75" height="4.60" fill="#abc6e1" rx="0"/>
<rect x="39.95" y="477.51" width="9.45" height="4.60" fill="#b73a3f" rx="0"/>
<text x="38.15" y="481.02" font-size="3.47976" text-anchor="end" fill="#1a1a1a" stroke="#1a1a1a" stroke-width="0.049" font-family='"Liberation Sans", Arial, sans-serif'>include</text>
<rect x="39.95" y="483.04" width="18.95" height="4.60" fill="#abc6e1" rx="0"/>
<rect x="39.95" y="483.04" width="9.15" height="4.60" fill="#b73a3f" rx="0"/>
<text x="38.15" y="486.56" font-size="3.47976" text-anchor="end" fill="#1a1a1a" stroke="#1a1a1a" stroke-width="0.049" font-family='"Liberation Sans", Arial, sans-serif'>remove</text>
<rect x="39.95" y="488.57" width="18.95" height="4.60" fill="#abc6e1" rx="0"/>
<rect x="39.95" y="488.57" width="9.15" height="4.60" fill="#b73a3f" rx="0"/>
<text x="38.15" y="492.09" font-size="3.47976" text-anchor="end" fill="#1a1a1a" stroke="#1a1a1a" stroke-width="0.049" font-family='"Liberation Sans", Arial, sans-serif'>highlight</text>
<rect x="39.95" y="494.11" width="31.75" height="4.60" fill="#abc6e1" rx="0"/>
<rect x="39.95" y="494.11" width="9.15" height="4.60" fill="#b73a3f" rx="0"/>
<text x="38.15" y="497.62" font-size="3.47976" text-anchor="end" fill="#1a1a1a" stroke="#1a1a1a" stroke-width="0.049" font-family='"Liberation Sans", Arial, sans-serif'>option</text>
<rect x="39.75" y="505.50" width="32.00" height="4.60" fill="#abc6e1" rx="0"/>
<text x="73.75" y="508.62" font-size="3.2562" text-anchor="start" fill="#222" stroke="#222" stroke-width="0.046" font-family='"Liberation Sans", Arial, sans-serif' textLength="35.75" lengthAdjust="spacingAndGlyphs">Overall term frequency</text>
<rect x="39.75" y="512.20" width="15.85" height="4.60" fill="#b73a3f" rx="0"/>
<text x="57.50" y="515.37" font-size="3.2562" text-anchor="start" fill="#222" stroke="#222" stroke-width="0.046" font-family='"Liberation Sans", Arial, sans-serif' textLength="79.25" lengthAdjust="spacingAndGlyphs">Estimated term frequency within the selected topic</text>
<rect x="257.50" y="294.00" width="173.25" height="16.00" fill="#e9e9e9" rx="0"/>
<text x="260.75" y="302.32" font-size="4.38325" text-anchor="start" fill="#222" stroke="#222" stroke-width="0.000" font-family='"Liberation Sans", Arial, sans-serif' textLength="63.13" lengthAdjust="spacingAndGlyphs">Slide to adjust relevance metric:</text>
<text x="329.00" y="301.14" font-size="2.758" text-anchor="end" fill="#8a8a8a" stroke="#8a8a8a" stroke-width="0.039" font-family='"Liberation Sans", Arial, sans-serif'>(2)</text>
<text x="290.00" y="307.47" font-size="4.2355" text-anchor="middle" fill="#222" stroke="#222" stroke-width="0.000" font-family='"Liberation Sans", Arial, sans-serif' textLength="10.00" lengthAdjust="spacingAndGlyphs">λ = 1</text>
<line x1="347.5" y1="297.75" x2="425.5" y2="297.75" stroke="#356ae3" stroke-width="2.46" stroke-linecap="round"/>
<circle cx="425.25" cy="297.75" r="2.66" fill="#356ae3"/>
<text x="348.75" y="307.68" font-size="3.39825" text-anchor="middle" fill="#222" stroke="#222" stroke-width="0.048" font-family='"Liberation Sans", Arial, sans-serif' font-weight="bold">0.0</text>
<line x1="348.75" y1="300.39" x2="348.75" y2="303.35" stroke="#8c8c8c" stroke-width="0.4"/>
<text x="364.00" y="307.68" font-size="3.39825" text-anchor="middle" fill="#222" stroke="#222" stroke-width="0.048" font-family='"Liberation Sans", Arial, sans-serif' font-weight="bold">0.2</text>
<line x1="364" y1="300.39" x2="364" y2="303.35" stroke="#8c8c8c" stroke-width="0.4"/>
<text x="379.25" y="307.68" font-size="3.39825" text-anchor="middle" fill="#222" stroke="#222" stroke-width="0.048" font-family='"Liberation Sans", Arial, sans-serif' font-weight="bold">0.4</text>
<line x1="379.25" y1="300.39" x2="379.25" y2="303.35" stroke="#8c8c8c" stroke-width="0.4"/>
<text x="394.50" y="307.68" font-size="3.39825" text-anchor="middle" fill="#222" stroke="#222" stroke-width="0.048" font-family='"Liberation Sans", Arial, sans-serif' font-weight="bold">0.6</text>
<line x1="394.5" y1="300.39" x2="394.5" y2="303.35" stroke="#8c8c8c" stroke-width="0.4"/>
<text x="409.75" y="307.68" font-size="3.39825" text-anchor="middle" fill="#222" stroke="#222" stroke-width="0.048" font-family='"Liberation Sans", Arial, sans-serif' font-weight="bold">0.8</text>
<line x1="409.75" y1="300.39" x2="409.75" y2="303.35" stroke="#8c8c8c" stroke-width="0.4"/>
<text x="424.00" y="307.68" font-size="3.39825" text-anchor="middle" fill="#222" stroke="#222" stroke-width="0.048" font-family='"Liberation Sans", Arial, sans-serif' font-weight="bold">1</text>
<line x1="424" y1="300.39" x2="424" y2="303.35" stroke="#8c8c8c" stroke-width="0.4"/>
<text x="344.50" y="319.62" font-size="5.319" text-anchor="middle" fill="#222" stroke="#222" stroke-width="0.000" font-family='"Liberation Sans", Arial, sans-serif' textLength="134.50" lengthAdjust="spacingAndGlyphs">Top-30 Most Relevant Terms for Topic 3 (21.6% of tokens)</text>
<text x="274.75" y="329.08" font-size="3.3489999999999998" text-anchor="middle" fill="#111" stroke="#111" stroke-width="0.047" font-family='"Liberation Sans", Arial, sans-serif'>2</text>
<text x="309.50" y="329.08" font-size="3.3489999999999998" text-anchor="middle" fill="#111" stroke="#111" stroke-width="0.047" font-family='"Liberation Sans", Arial, sans-serif'>4</text>
<text x="344.50" y="329.08" font-size="3.3489999999999998" text-anchor="middle" fill="#111" stroke="#111" stroke-width="0.047" font-family='"Liberation Sans", Arial, sans-serif'>6</text>
<text x="379.25" y="329.08" font-size="3.3489999999999998" text-anchor="middle" fill="#111" stroke="#111" stroke-width="0.047" font-family='"Liberation Sans", Arial, sans-serif'>8</text>
<text x="413.50" y="329.08" font-size="3.3489999999999998" text-anchor="middle" fill="#111" stroke="#111" stroke-width="0.047" font-family='"Liberation Sans", Arial, sans-serif'>10</text>
<clipPath id="clc"><rect x="234.6" y="418.95" width="80" height="92.6"/></clipPath>
<circle cx="198.2" cy="465.25" r="44.3" fill="#2d70b4" fill-opacity="0.2" clip-path="url(#clc)"/>
<rect x="257.65" y="333.28" width="108.10" height="4.65" fill="#abc6e1" rx="0"/>
<rect x="257.65" y="333.28" width="34.25" height="4.65" fill="#b73a3f" rx="0"/>
<text x="255.85" y="336.83" font-size="3.5263" text-anchor="end" fill="#1a1a1a" stroke="#1a1a1a" stroke-width="0.049" font-family='"Liberation Sans", Arial, sans-serif'>system</text>
<rect x="257.65" y="338.87" width="59.05" height="4.65" fill="#abc6e1" rx="0"/>
<rect x="257.65" y="338.87" width="31.25" height="4.65" fill="#b73a3f" rx="0"/>
<text x="255.85" y="342.42" font-size="3.5263" text-anchor="end" fill="#1a1a1a" stroke="#1a1a1a" stroke-width="0.049" font-family='"Liberation Sans", Arial, sans-serif'>map</text>
<rect x="257.65" y="344.46" width="69.35" height="4.65" fill="#abc6e1" rx="0"/>
<rect x="257.65" y="344.46" width="24.95" height="4.65" fill="#b73a3f" rx="0"/>
<text x="255.85" y="348.01" font-size="3.5263" text-anchor="end" fill="#1a1a1a" stroke="#1a1a1a" stroke-width="0.049" font-family='"Liberation Sans", Arial, sans-serif'>menu</text>
<rect x="257.65" y="350.05" width="97.85" height="4.65" fill="#abc6e1" rx="0"/>
<rect x="257.65" y="350.05" width="23.95" height="4.65" fill="#b73a3f" rx="0"/>
<text x="255.85" y="353.60" font-size="3.5263" text-anchor="end" fill="#1a1a1a" stroke="#1a1a1a" stroke-width="0.049" font-family='"Liberation Sans", Arial, sans-serif'>transaction</text>
<rect x="257.65" y="355.64" width="165.10" height="4.65" fill="#abc6e1" rx="0"/>
<rect x="257.65" y="355.64" width="22.95" height="4.65" fill="#b73a3f" rx="0"/>
<text x="255.85" y="359.20" font-size="3.5263" text-anchor="end" fill="#1a1a1a" stroke="#1a1a1a" stroke-width="0.049" font-family='"Liberation Sans", Arial, sans-serif'>user</text>
<rect x="257.65" y="361.23" width="28.75" height="4.65" fill="#abc6e1" rx="0"/>
<rect x="257.65" y="361.23" width="18.25" height="4.65" fill="#b73a3f" rx="0"/>
<text x="255.85" y="364.79" font-size="3.5263" text-anchor="end" fill="#1a1a1a" stroke="#1a1a1a" stroke-width="0.049" font-family='"Liberation Sans", Arial, sans-serif'>location</text>
<rect x="257.65" y="366.82" width="42.05" height="4.65" fill="#abc6e1" rx="0"/>
<rect x="257.65" y="366.82" width="17.45" height="4.65" fill="#b73a3f" rx="0"/>
<text x="255.85" y="370.38" font-size="3.5263" text-anchor="end" fill="#1a1a1a" stroke="#1a1a1a" stroke-width="0.049" font-family='"Liberation Sans", Arial, sans-serif'>search</text>
<rect x="257.65" y="372.41" width="50.75" height="4.65" fill="#abc6e1" rx="0"/>
<rect x="257.65" y="372.41" width="16.75" height="4.65" fill="#b73a3f" rx="0"/>
<text x="255.85" y="375.97" font-size="3.5263" text-anchor="end" fill="#1a1a1a" stroke="#1a1a1a" stroke-width="0.049" font-family='"Liberation Sans", Arial, sans-serif'>interface</text>
<rect x="257.65" y="378.00" width="48.55" height="4.65" fill="#abc6e1" rx="0"/>
<rect x="257.65" y="378.00" width="15.45" height="4.65" fill="#b73a3f" rx="0"/>
<text x="255.85" y="381.56" font-size="3.5263" text-anchor="end" fill="#1a1a1a" stroke="#1a1a1a" stroke-width="0.049" font-family='"Liberation Sans", Arial, sans-serif'>easy</text>
<rect x="257.65" y="383.59" width="57.35" height="4.65" fill="#abc6e1" rx="0"/>
<rect x="257.65" y="383.59" width="15.15" height="4.65" fill="#b73a3f" rx="0"/>
<text x="255.85" y="387.15" font-size="3.5263" text-anchor="end" fill="#1a1a1a" stroke="#1a1a1a" stroke-width="0.049" font-family='"Liberation Sans", Arial, sans-serif'>difficult</text>
<rect x="257.65" y="389.19" width="80.75" height="4.65" fill="#abc6e1" rx="0"/>
<rect x="257.65" y="389.19" width="12.15" height="4.65" fill="#b73a3f" rx="0"/>
<text x="255.85" y="392.74" font-size="3.5263" text-anchor="end" fill="#1a1a1a" stroke="#1a1a1a" stroke-width="0.049" font-family='"Liberation Sans", Arial, sans-serif'>find</text>
<rect x="257.65" y="394.78" width="32.95" height="4.65" fill="#abc6e1" rx="0"/>
<rect x="257.65" y="394.78" width="12.15" height="4.65" fill="#b73a3f" rx="0"/>
<text x="255.85" y="398.33" font-size="3.5263" text-anchor="end" fill="#1a1a1a" stroke="#1a1a1a" stroke-width="0.049" font-family='"Liberation Sans", Arial, sans-serif'>include</text>
<rect x="257.65" y="400.37" width="32.45" height="4.65" fill="#abc6e1" rx="0"/>
<rect x="257.65" y="400.37" width="12.15" height="4.65" fill="#b73a3f" rx="0"/>
<text x="255.85" y="403.92" font-size="3.5263" text-anchor="end" fill="#1a1a1a" stroke="#1a1a1a" stroke-width="0.049" font-family='"Liberation Sans", Arial, sans-serif'>erp</text>
<rect x="257.65" y="405.96" width="28.75" height="4.65" fill="#abc6e1" rx="0"/>
<rect x="257.65" y="405.96" width="12.15" height="4.65" fill="#b73a3f" rx="0"/>
<text x="255.85" y="409.51" font-size="3.5263" text-anchor="end" fill="#1a1a1a" stroke="#1a1a1a" stroke-width="0.049" font-family='"Liberation Sans", Arial, sans-serif'>structure</text>
<rect x="257.65" y="411.55" width="25.45" height="4.65" fill="#abc6e1" rx="0"/>
<rect x="257.65" y="411.55" width="12.15" height="4.65" fill="#b73a3f" rx="0"/>
<text x="255.85" y="415.11" font-size="3.5263" text-anchor="end" fill="#1a1a1a" stroke="#1a1a1a" stroke-width="0.049" font-family='"Liberation Sans", Arial, sans-serif'>access</text>
<rect x="257.65" y="417.14" width="22.25" height="4.65" fill="#abc6e1" rx="0"/>
<rect x="257.65" y="417.14" width="12.15" height="4.65" fill="#b73a3f" rx="0"/>
<text x="255.85" y="420.70" font-size="3.5263" text-anchor="end" fill="#1a1a1a" stroke="#1a1a1a" stroke-width="0.049" font-family='"Liberation Sans", Arial, sans-serif'>current</text>
<rect x="257.65" y="422.73" width="42.05" height="4.65" fill="#abc6e1" rx="0"/>
<rect x="257.65" y="422.73" width="11.15" height="4.65" fill="#b73a3f" rx="0"/>
<text x="255.85" y="426.29" font-size="3.5263" text-anchor="end" fill="#1a1a1a" stroke="#1a1a1a" stroke-width="0.049" font-family='"Liberation Sans", Arial, sans-serif'>function</text>
<rect x="257.65" y="428.32" width="43.85" height="4.65" fill="#abc6e1" rx="0"/>
<rect x="257.65" y="428.32" width="9.65" height="4.65" fill="#b73a3f" rx="0"/>
<text x="255.85" y="431.88" font-size="3.5263" text-anchor="end" fill="#1a1a1a" stroke="#1a1a1a" stroke-width="0.049" font-family='"Liberation Sans", Arial, sans-serif'>information</text>
<rect x="257.65" y="433.91" width="44.05" height="4.65" fill="#abc6e1" rx="0"/>
<rect x="257.65" y="433.91" width="9.65" height="4.65" fill="#b73a3f" rx="0"/>
<text x="255.85" y="437.47" font-size="3.5263" text-anchor="end" fill="#1a1a1a" stroke="#1a1a1a" stroke-width="0.049" font-family='"Liberation Sans", Arial, sans-serif'>time</text>
<rect x="257.65" y="439.50" width="19.25" height="4.65" fill="#abc6e1" rx="0"/>
<rect x="257.65" y="439.50" width="9.65" height="4.65" fill="#b73a3f" rx="0"/>
<text x="255.85" y="443.06" font-size="3.5263" text-anchor="end" fill="#1a1a1a" stroke="#1a1a1a" stroke-width="0.049" font-family='"Liberation Sans", Arial, sans-serif'>much</text>
<rect x="257.65" y="445.10" width="19.25" height="4.65" fill="#abc6e1" rx="0"/>
<rect x="257.65" y="445.10" width="9.65" height="4.65" fill="#b73a3f" rx="0"/>
<text x="255.85" y="448.65" font-size="3.5263" text-anchor="end" fill="#1a1a1a" stroke="#1a1a1a" stroke-width="0.049" font-family='"Liberation Sans", Arial, sans-serif'>confusion</text>
<rect x="257.65" y="450.69" width="19.95" height="4.65" fill="#abc6e1" rx="0"/>
<rect x="257.65" y="450.69" width="9.20" height="4.65" fill="#b73a3f" rx="0"/>
<text x="255.85" y="454.24" font-size="3.5263" text-anchor="end" fill="#1a1a1a" stroke="#1a1a1a" stroke-width="0.049" font-family='"Liberation Sans", Arial, sans-serif'>participant</text>
<rect x="257.65" y="456.28" width="26.05" height="4.65" fill="#abc6e1" rx="0"/>
<rect x="257.65" y="456.28" width="9.20" height="4.65" fill="#b73a3f" rx="0"/>
<text x="255.85" y="459.83" font-size="3.5263" text-anchor="end" fill="#1a1a1a" stroke="#1a1a1a" stroke-width="0.049" font-family='"Liberation Sans", Arial, sans-serif'>complexity</text>
<rect x="257.65" y="461.87" width="19.25" height="4.65" fill="#abc6e1" rx="0"/>
<rect x="257.65" y="461.87" width="9.20" height="4.65" fill="#b73a3f" rx="0"/>
<text x="255.85" y="465.42" font-size="3.5263" text-anchor="end" fill="#1a1a1a" stroke="#1a1a1a" stroke-width="0.049" font-family='"Liberation Sans", Arial, sans-serif'>display</text>
<rect x="257.65" y="467.46" width="19.25" height="4.65" fill="#abc6e1" rx="0"/>
<rect x="257.65" y="467.46" width="9.20" height="4.65" fill="#b73a3f" rx="0"/>
<text x="255.85" y="471.02" font-size="3.5263" text-anchor="end" fill="#1a1a1a" stroke="#1a1a1a" stroke-width="0.049" font-family='"Liberation Sans", Arial, sans-serif'>name</text>
<rect x="257.65" y="473.05" width="19.25" height="4.65" fill="#abc6e1" rx="0"/>
<rect x="257.65" y="473.05" width="9.20" height="4.65" fill="#b73a3f" rx="0"/>
<text x="255.85" y="476.61" font-size="3.5263" text-anchor="end" fill="#1a1a1a" stroke="#1a1a1a" stroke-width="0.049" font-family='"Liberation Sans", Arial, sans-serif'>way</text>
<rect x="257.65" y="478.64" width="22.45" height="4.65" fill="#abc6e1" rx="0"/>
<rect x="257.65" y="478.64" width="9.20" height="4.65" fill="#b73a3f" rx="0"/>
<text x="255.85" y="482.20" font-size="3.5263" text-anchor="end" fill="#1a1a1a" stroke="#1a1a1a" stroke-width="0.049" font-family='"Liberation Sans", Arial, sans-serif'>code</text>
<rect x="257.65" y="484.23" width="19.25" height="4.65" fill="#abc6e1" rx="0"/>
<rect x="257.65" y="484.23" width="9.20" height="4.65" fill="#b73a3f" rx="0"/>
<text x="255.85" y="487.79" font-size="3.5263" text-anchor="end" fill="#1a1a1a" stroke="#1a1a1a" stroke-width="0.049" font-family='"Liberation Sans", Arial, sans-serif'>expand</text>
<rect x="257.65" y="489.82" width="19.25" height="4.65" fill="#abc6e1" rx="0"/>
<rect x="257.65" y="489.82" width="9.20" height="4.65" fill="#b73a3f" rx="0"/>
<text x="255.85" y="493.38" font-size="3.5263" text-anchor="end" fill="#1a1a1a" stroke="#1a1a1a" stroke-width="0.049" font-family='"Liberation Sans", Arial, sans-serif'>directly</text>
<rect x="257.65" y="495.41" width="19.25" height="4.65" fill="#abc6e1" rx="0"/>
<rect x="257.65" y="495.41" width="9.20" height="4.65" fill="#b73a3f" rx="0"/>
<text x="255.85" y="498.97" font-size="3.5263" text-anchor="end" fill="#1a1a1a" stroke="#1a1a1a" stroke-width="0.049" font-family='"Liberation Sans", Arial, sans-serif'>discern</text>
<rect x="257.50" y="506.90" width="32.00" height="4.70" fill="#abc6e1" rx="0"/>
<text x="292.00" y="510.13" font-size="3.29975" text-anchor="start" fill="#222" stroke="#222" stroke-width="0.046" font-family='"Liberation Sans", Arial, sans-serif' textLength="35.50" lengthAdjust="spacingAndGlyphs">Overall term frequency</text>
<rect x="257.50" y="513.70" width="16.25" height="4.60" fill="#b73a3f" rx="0"/>
<text x="275.50" y="516.88" font-size="3.29975" text-anchor="start" fill="#222" stroke="#222" stroke-width="0.046" font-family='"Liberation Sans", Arial, sans-serif' textLength="79.50" lengthAdjust="spacingAndGlyphs">Estimated term frequency within the selected topic</text>
<text x="240.75" y="281.35" font-size="8.0" text-anchor="middle" fill="#111" stroke="#111" stroke-width="0.000" font-family='"Liberation Serif", serif' font-weight="bold">(a)</text>
<text x="128.12" y="537.60" font-size="8.0" text-anchor="middle" fill="#111" stroke="#111" stroke-width="0.000" font-family='"Liberation Serif", serif' font-weight="bold">(b)</text>
<text x="349.12" y="537.60" font-size="8.0" text-anchor="middle" fill="#111" stroke="#111" stroke-width="0.000" font-family='"Liberation Serif", serif' font-weight="bold">(c)</text>
</g>
</svg>
</body></html>
